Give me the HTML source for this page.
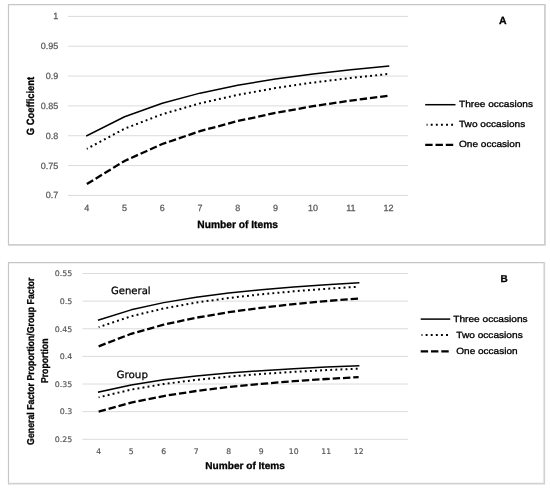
<!DOCTYPE html>
<html><head><meta charset="utf-8"><title>Figure</title>
<style>
html,body{margin:0;padding:0;background:#fff;}
svg{display:block;}
text{font-family:"Liberation Sans",sans-serif;text-rendering:geometricPrecision;}
.lab{font-size:9px;fill:#595959;stroke:#595959;stroke-width:0.25;}
.b{font-weight:bold;fill:#000;stroke:#000;stroke-width:0.3;}
.leg{font-size:9px;fill:#000;stroke:#000;stroke-width:0.3;}
.labB{font-family:"DejaVu Sans",sans-serif;font-size:7.7px;fill:#595959;stroke:#595959;stroke-width:0.2;}
.dj{font-family:"DejaVu Sans",sans-serif;font-size:10px;fill:#000;stroke:#000;stroke-width:0.25;}
.s1{fill:none;stroke:#000;stroke-width:1.5;stroke-linejoin:round;}
.s2{fill:none;stroke:#000;stroke-width:2;stroke-dasharray:1.9 3.2;stroke-dashoffset:0.95;stroke-linejoin:round;}
.s3{fill:none;stroke:#000;stroke-width:2.3;stroke-dasharray:7.4 2.9;}
</style></head><body>
<svg width="550" height="491" viewBox="0 0 550 491">
<rect width="550" height="491" fill="#fff"/>

<path d="M8.5,4 V245.6 M8,4.6 H545.8" fill="none" stroke="#c6c6c6" stroke-width="1.2"/><path d="M544.9,4 V245.6 M8,244.8 H545.8" fill="none" stroke="#cfcfcf" stroke-width="1.8"/>
<line x1="68.0" x2="408.0" y1="16.40" y2="16.40" stroke="#dbdbdb" stroke-width="1"/>
<text class="lab" x="58.3" y="19.40" text-anchor="end">1</text>
<line x1="68.0" x2="408.0" y1="46.23" y2="46.23" stroke="#dbdbdb" stroke-width="1"/>
<text class="lab" x="58.3" y="49.23" text-anchor="end">0.95</text>
<line x1="68.0" x2="408.0" y1="76.07" y2="76.07" stroke="#dbdbdb" stroke-width="1"/>
<text class="lab" x="58.3" y="79.07" text-anchor="end">0.9</text>
<line x1="68.0" x2="408.0" y1="105.90" y2="105.90" stroke="#dbdbdb" stroke-width="1"/>
<text class="lab" x="58.3" y="108.90" text-anchor="end">0.85</text>
<line x1="68.0" x2="408.0" y1="135.73" y2="135.73" stroke="#dbdbdb" stroke-width="1"/>
<text class="lab" x="58.3" y="138.73" text-anchor="end">0.8</text>
<line x1="68.0" x2="408.0" y1="165.57" y2="165.57" stroke="#dbdbdb" stroke-width="1"/>
<text class="lab" x="58.3" y="168.57" text-anchor="end">0.75</text>
<line x1="68.0" x2="408.0" y1="195.40" y2="195.40" stroke="#dbdbdb" stroke-width="1"/>
<text class="lab" x="58.3" y="198.40" text-anchor="end">0.7</text>
<text class="lab" x="86.86" y="211.3" text-anchor="middle">4</text>
<text class="lab" x="124.57" y="211.3" text-anchor="middle">5</text>
<text class="lab" x="162.28" y="211.3" text-anchor="middle">6</text>
<text class="lab" x="199.99" y="211.3" text-anchor="middle">7</text>
<text class="lab" x="237.70" y="211.3" text-anchor="middle">8</text>
<text class="lab" x="275.41" y="211.3" text-anchor="middle">9</text>
<text class="lab" x="313.12" y="211.3" text-anchor="middle">10</text>
<text class="lab" x="350.83" y="211.3" text-anchor="middle">11</text>
<text class="lab" x="388.54" y="211.3" text-anchor="middle">12</text>
<polyline class="s1" stroke-linecap="square" points="86.86,135.73 124.57,116.76 162.28,103.26 199.99,93.15 237.70,85.31 275.41,79.04 313.12,73.91 350.83,69.65 388.54,66.04"/>
<polyline class="s2" points="86.86,148.86 124.57,128.67 162.28,114.21 199.99,103.34 237.70,94.88 275.41,88.09 313.12,82.54 350.83,77.90 388.54,73.98"/>
<polyline class="s3" points="86.86,184.06 124.57,160.91 162.28,144.03 199.99,131.18 237.70,121.07 275.41,112.92 313.12,106.19 350.83,100.55 388.54,95.76"/>
<text class="b" font-size="10.5" x="237.65" y="228.1" text-anchor="middle" textLength="80.7" lengthAdjust="spacingAndGlyphs">Number of Items</text>
<text class="b" font-size="10.5" transform="translate(34.4,106) rotate(-90)" text-anchor="middle" textLength="58.3" lengthAdjust="spacingAndGlyphs">G Coefficient</text>
<text class="b" font-size="10.5" x="502.8" y="24.4" text-anchor="middle">A</text>
<line class="s1" x1="425.2" x2="455.5" y1="104.7" y2="104.7"/>
<line class="s2" x1="426.6" x2="455.5" y1="124.8" y2="124.8"/>
<line class="s3" x1="425.2" x2="455.5" y1="144.8" y2="144.8"/>
<text class="leg" x="459" y="107.3" textLength="74" lengthAdjust="spacingAndGlyphs">Three occasions</text>
<text class="leg" x="459" y="127.4" textLength="66.2" lengthAdjust="spacingAndGlyphs">Two occasions</text>
<text class="leg" x="459" y="147.4" textLength="61.5" lengthAdjust="spacingAndGlyphs">One occasion</text>
<path d="M8.5,262 V484.5 M8,262.55 H545" fill="none" stroke="#c6c6c6" stroke-width="1.2"/><path d="M544.3,262 V484.5 M8,483.7 H545" fill="none" stroke="#d2d2d2" stroke-width="1.7"/>
<line x1="82.4" x2="408.0" y1="273.50" y2="273.50" stroke="#dbdbdb" stroke-width="1"/>
<text class="labB" x="72.2" y="276.30" text-anchor="end" textLength="17.54" lengthAdjust="spacingAndGlyphs">0.55</text>
<line x1="82.4" x2="408.0" y1="301.13" y2="301.13" stroke="#dbdbdb" stroke-width="1"/>
<text class="labB" x="72.2" y="303.93" text-anchor="end" textLength="12.53" lengthAdjust="spacingAndGlyphs">0.5</text>
<line x1="82.4" x2="408.0" y1="328.77" y2="328.77" stroke="#dbdbdb" stroke-width="1"/>
<text class="labB" x="72.2" y="331.57" text-anchor="end" textLength="17.54" lengthAdjust="spacingAndGlyphs">0.45</text>
<line x1="82.4" x2="408.0" y1="356.40" y2="356.40" stroke="#dbdbdb" stroke-width="1"/>
<text class="labB" x="72.2" y="359.20" text-anchor="end" textLength="12.53" lengthAdjust="spacingAndGlyphs">0.4</text>
<line x1="82.4" x2="408.0" y1="384.03" y2="384.03" stroke="#dbdbdb" stroke-width="1"/>
<text class="labB" x="72.2" y="386.83" text-anchor="end" textLength="17.54" lengthAdjust="spacingAndGlyphs">0.35</text>
<line x1="82.4" x2="408.0" y1="411.67" y2="411.67" stroke="#dbdbdb" stroke-width="1"/>
<text class="labB" x="72.2" y="414.47" text-anchor="end" textLength="12.53" lengthAdjust="spacingAndGlyphs">0.3</text>
<line x1="82.4" x2="408.0" y1="439.30" y2="439.30" stroke="#dbdbdb" stroke-width="1"/>
<text class="labB" x="72.2" y="442.10" text-anchor="end" textLength="17.54" lengthAdjust="spacingAndGlyphs">0.25</text>
<text class="labB" x="98.65" y="453.5" text-anchor="middle">4</text>
<text class="labB" x="131.15" y="453.5" text-anchor="middle">5</text>
<text class="labB" x="163.65" y="453.5" text-anchor="middle">6</text>
<text class="labB" x="196.15" y="453.5" text-anchor="middle">7</text>
<text class="labB" x="228.65" y="453.5" text-anchor="middle">8</text>
<text class="labB" x="261.15" y="453.5" text-anchor="middle">9</text>
<text class="labB" x="293.65" y="453.5" text-anchor="middle">10</text>
<text class="labB" x="326.15" y="453.5" text-anchor="middle">11</text>
<text class="labB" x="358.65" y="453.5" text-anchor="middle">12</text>
<polyline class="s1" stroke-linecap="square" points="98.65,319.98 131.15,309.85 163.65,302.63 196.15,297.24 228.65,293.06 261.15,289.71 293.65,286.98 326.15,284.71 358.65,282.78"/>
<polyline class="s2" points="98.65,327.16 131.15,316.26 163.65,308.45 196.15,302.58 228.65,298.00 261.15,294.34 293.65,291.33 326.15,288.83 358.65,286.71"/>
<polyline class="s3" points="98.65,346.34 131.15,333.80 163.65,324.66 196.15,317.69 228.65,312.21 261.15,307.79 293.65,304.14 326.15,301.08 358.65,298.48"/>
<polyline class="s1" stroke-linecap="square" points="98.65,392.10 131.15,384.91 163.65,379.80 196.15,375.97 228.65,373.01 261.15,370.64 293.65,368.71 326.15,367.10 358.65,365.74"/>
<polyline class="s2" points="98.65,397.35 131.15,389.60 163.65,384.04 196.15,379.87 228.65,376.63 261.15,374.02 293.65,371.89 326.15,370.12 358.65,368.61"/>
<polyline class="s3" points="98.65,411.67 131.15,402.62 163.65,396.03 196.15,391.00 228.65,387.04 261.15,383.85 293.65,381.21 326.15,379.00 358.65,377.13"/>
<text class="dj" x="111.0" y="294.2" textLength="39.6" lengthAdjust="spacingAndGlyphs">General</text>
<text class="dj" x="116.5" y="377.6" textLength="31.5" lengthAdjust="spacingAndGlyphs">Group</text>
<text class="b" font-size="10" x="245.1" y="468.8" text-anchor="middle" textLength="79.6" lengthAdjust="spacingAndGlyphs">Number of Items</text>
<text class="b" font-size="10" transform="translate(34.2,361.3) rotate(-90)" text-anchor="middle" textLength="167.3" lengthAdjust="spacingAndGlyphs">General Factor Proportion/Group Factor</text>
<text class="b" font-size="10" transform="translate(47.8,360.8) rotate(-90)" text-anchor="middle" textLength="44.6" lengthAdjust="spacingAndGlyphs">Proportion</text>
<text class="b" font-size="10" x="504" y="282" text-anchor="middle">B</text>
<line class="s1" x1="420.7" x2="450.2" y1="319.1" y2="319.1"/>
<line class="s2" x1="421.5" x2="450.2" y1="334.9" y2="334.9"/>
<line class="s3" x1="420.7" x2="450.2" y1="351.3" y2="351.3"/>
<text class="leg" x="453.3" y="322.1" textLength="74.3" lengthAdjust="spacingAndGlyphs">Three occasions</text>
<text class="leg" x="456.3" y="337.8" textLength="66.4" lengthAdjust="spacingAndGlyphs">Two occasions</text>
<text class="leg" x="456.3" y="354.1" textLength="61.3" lengthAdjust="spacingAndGlyphs">One occasion</text>
</svg></body></html>
